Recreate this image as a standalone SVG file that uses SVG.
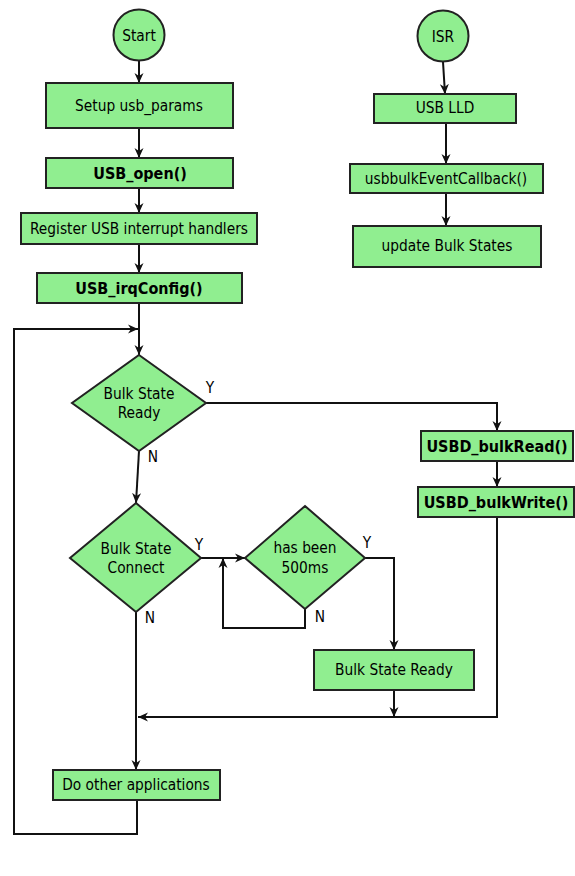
<svg xmlns="http://www.w3.org/2000/svg" width="575" height="876" viewBox="0 0 575 876">
<style>
.n{fill:#90ee90;stroke:#222;stroke-width:2}
.t{font-family:"DejaVu Sans Condensed","DejaVu Sans",sans-serif;font-size:15.3px;fill:#000;text-anchor:middle;dominant-baseline:central}
.b{font-weight:bold;font-size:16px}
.c{fill:none;stroke:#111;stroke-width:2}
.a{marker-end:url(#ar)}
</style>
<defs>
<marker id="ar" viewBox="0 0 10 10" refX="10" refY="5" markerWidth="10" markerHeight="10" markerUnits="userSpaceOnUse" orient="auto">
<path d="M0,0.5 L10,5 L0,9.5 L3,5 z" fill="#111"/>
</marker>
</defs>
<rect width="575" height="876" fill="#fff"/>
<g id="connectors">
<line class="c a" x1="139" y1="61" x2="139" y2="83"/>
<line class="c a" x1="139" y1="128" x2="139" y2="158"/>
<line class="c a" x1="139" y1="188" x2="139" y2="213"/>
<line class="c a" x1="139" y1="244" x2="139" y2="273"/>
<line class="c a" x1="139" y1="303" x2="139" y2="355"/>
<polyline class="c a" points="137,800 137,834 14,834 14,329 138,329"/>
<line class="c a" x1="139" y1="451" x2="136" y2="503"/>
<polyline class="c a" points="206,403 497,403 497,431"/>
<line class="c a" x1="497" y1="461" x2="497" y2="487"/>
<polyline class="c a" points="497,517 497,717 138,717"/>
<line class="c a" x1="201" y1="558" x2="245" y2="558"/>
<polyline class="c a" points="305,609 305,628 223,628 223,558"/>
<polyline class="c a" points="365,558 394,558 394,650"/>
<line class="c a" x1="394" y1="690" x2="394" y2="717"/>
<line class="c a" x1="136" y1="612" x2="136" y2="770"/>
<line class="c a" x1="443" y1="62" x2="445" y2="94"/>
<line class="c a" x1="446" y1="123" x2="446" y2="164"/>
<line class="c a" x1="446" y1="193" x2="446" y2="226"/>
</g>
<g id="start"><circle class="n" cx="139" cy="35" r="25.5"/><text class="t" x="139" y="36">Start</text></g>
<g id="setup"><rect class="n" x="46" y="83" width="187" height="45"/><text class="t" x="139" y="106">Setup usb_params</text></g>
<g id="usbopen"><rect class="n" x="46" y="158" width="187" height="30"/><text class="t b" x="140" y="173">USB_open()</text></g>
<g id="register"><rect class="n" x="21" y="213" width="236" height="31"/><text class="t" x="139" y="229">Register USB interrupt handlers</text></g>
<g id="irqconfig"><rect class="n" x="37" y="273" width="205" height="30"/><text class="t b" x="139" y="288">USB_irqConfig()</text></g>
<g id="ready"><polygon class="n" points="139,355 206,403 139,451 72,403"/><text class="t" x="139" y="394">Bulk State</text><text class="t" x="139" y="413">Ready</text></g>
<g id="connect"><polygon class="n" points="136,503 201,558 136,612 70,558"/><text class="t" x="136" y="549">Bulk State</text><text class="t" x="136" y="568">Connect</text></g>
<g id="wait"><polygon class="n" points="305,506 365,558 305,609 245,558"/><text class="t" x="305" y="548">has been</text><text class="t" x="305" y="568">500ms</text></g>
<g id="bulkread"><rect class="n" x="421" y="431" width="152" height="30"/><text class="t b" x="497" y="446">USBD_bulkRead()</text></g>
<g id="bulkwrite"><rect class="n" x="418" y="487" width="156" height="30"/><text class="t b" x="496" y="502">USBD_bulkWrite()</text></g>
<g id="setready"><rect class="n" x="314" y="650" width="160" height="40"/><text class="t" x="394" y="670">Bulk State Ready</text></g>
<g id="other"><rect class="n" x="53" y="770" width="167" height="30"/><text class="t" x="136" y="785">Do other applications</text></g>
<g id="isr"><circle class="n" cx="443" cy="36" r="25.5"/><text class="t" x="443" y="37">ISR</text></g>
<g id="lld"><rect class="n" x="374" y="94" width="142" height="29"/><text class="t" x="445" y="108">USB LLD</text></g>
<g id="callback"><rect class="n" x="350" y="164" width="193" height="29"/><text class="t" x="446" y="179">usbbulkEventCallback()</text></g>
<g id="update"><rect class="n" x="353" y="226" width="188" height="41"/><text class="t" x="447" y="246">update Bulk States</text></g>
<g id="labels">
<text class="t" x="210" y="388">Y</text>
<text class="t" x="153" y="457">N</text>
<text class="t" x="199" y="545">Y</text>
<text class="t" x="150" y="618">N</text>
<text class="t" x="367" y="543">Y</text>
<text class="t" x="320" y="617">N</text>
</g>
</svg>
